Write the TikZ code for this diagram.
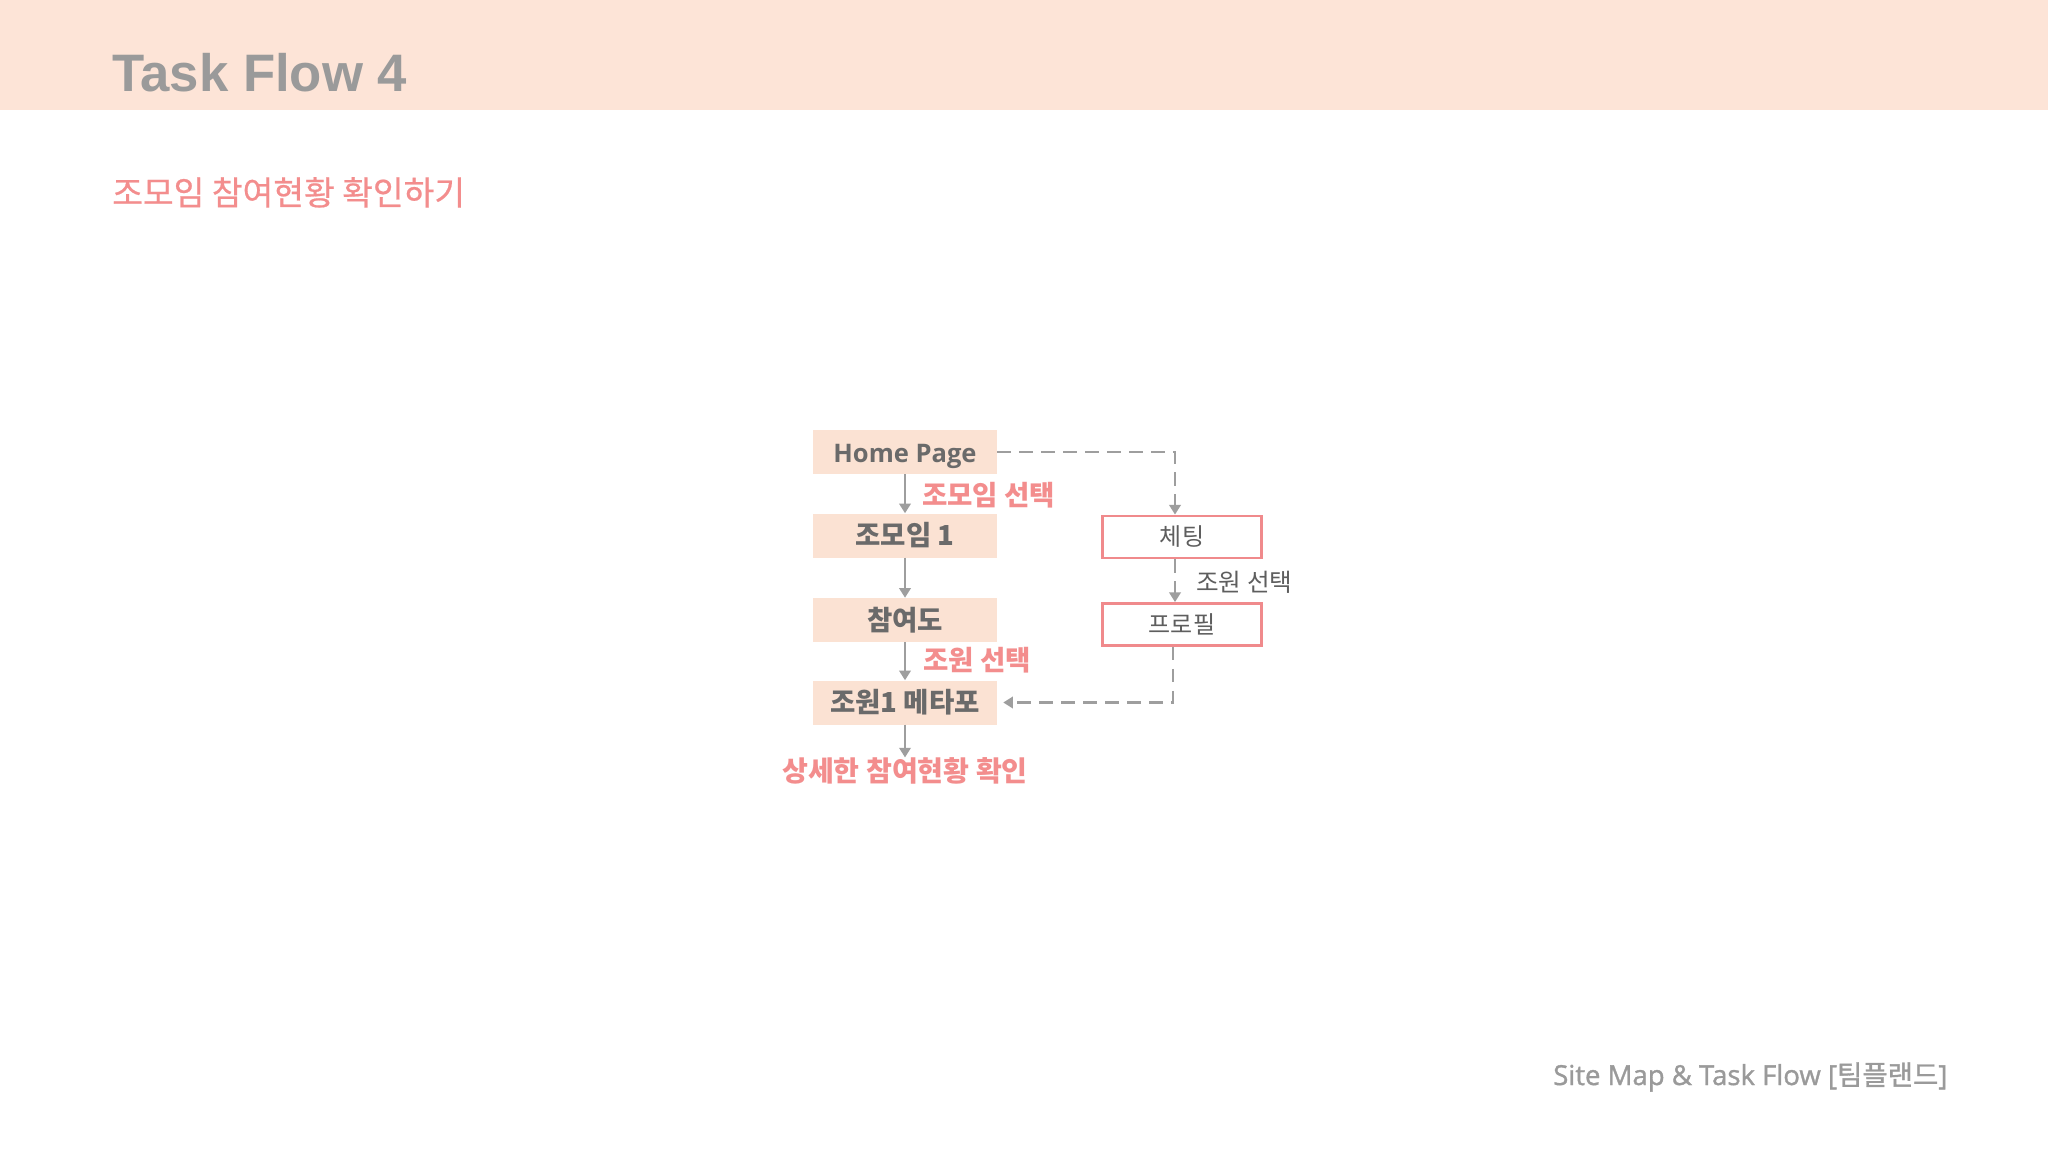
\documentclass[tikz,border=0pt]{standalone}
\usepackage{fontspec}
\setmainfont{Noto Sans CJK KR}
\newfontfamily\titlefont{Liberation Sans}
\newfontfamily\latinfont{Open Sans}
\newfontfamily\footlatin{Open Sans}[FakeBold=1.2]
\newfontfamily\footcjk{Noto Sans CJK KR}[FakeBold=1.2]
\newfontfamily\subfont{Noto Sans CJK KR}[FakeBold=0.6]
\usetikzlibrary{arrows.meta,positioning}
\definecolor{peach}{HTML}{FDE4D7}
\definecolor{boxpeach}{HTML}{FBE2D3}
\definecolor{pinktxt}{HTML}{F38D8D}
\definecolor{pinkline}{HTML}{F08A8C}
\definecolor{arrowgray}{HTML}{9E9E9E}
\definecolor{darktxt}{HTML}{6A6A6A}
\definecolor{midtxt}{HTML}{5E5E5E}
\definecolor{titlegray}{HTML}{9A9A9A}
\tikzset{
  pagebox/.style={fill=boxpeach, text=darktxt, minimum width=5.52cm, minimum height=1.32cm,
    inner sep=0pt, font=\fontsize{23.5pt}{27pt}\selectfont\bfseries},
  screenbox/.style={draw=pinkline, line width=2.4pt, fill=white, text=midtxt, minimum width=4.78cm,
    minimum height=1.26cm, inner sep=0pt, font=\fontsize{20.5pt}{24pt}\selectfont},
  picklabel/.style={anchor=west, inner sep=0pt, text=pinktxt, font=\fontsize{23.5pt}{27pt}\selectfont\bfseries},
  flow/.style={draw=arrowgray, line width=2.3pt, -{Triangle[length=0.29cm,width=0.34cm]}},
  dashflow/.style={flow, dash pattern=on 0.4cm off 0.26cm}
}
\begin{document}
\begin{tikzpicture}[x=0.03cm, y=-0.03cm]
\useasboundingbox (0,0) rectangle (2048,1152);
\fill[white] (0,0) rectangle (2048,1152);
\fill[peach] (0,0) rectangle (2048,110); % header
\node[anchor=base west, inner sep=0pt, text=titlegray, font=\titlefont\fontsize{45pt}{50pt}\selectfont\bfseries] (title) at (112,92) {Task Flow 4};
\node[anchor=base west, inner sep=0pt, text=pinktxt, font=\subfont\fontsize{28.5pt}{32pt}\selectfont] (subtitle) at (112,205) {조모임 참여현황 확인하기};

% main flow
\node[pagebox] (home) at (905,452) {{\latinfont\fontsize{21.8pt}{26pt}\selectfont\smash{Home Page}}\vphantom{조}};
\node[pagebox] (club) at (905,535.5) {조모임 1};
\node[pagebox] (part) at (905,620) {참여도};
\node[pagebox] (meta) at (905,702.5) {조원1 메타포};
\node[inner sep=0pt, text=pinktxt, font=\fontsize{24pt}{28pt}\selectfont\bfseries] (detail) at (905,771) {상세한 참여현황 확인};
\draw[flow] (home) -- (club);
\draw[flow] (club) -- (part);
\draw[flow] (part) -- (meta);
\draw[flow] (meta) -- (detail);
\node[picklabel] (pickclub) at (922,495) {조모임 선택};
\node[picklabel] (pickmember) at (923,660) {조원 선택};

% chat side
\node[screenbox] (chat) at (1182,537) {체팅};
\node[screenbox] (profile) at (1182,624.5) {프로필};
\draw[dashflow] (home.east) -| ([xshift=-0.21cm]chat.north);
\draw[dashflow] ([xshift=-0.21cm]chat.south) -- ([xshift=-0.21cm]profile.north);
\draw[dashflow] ([xshift=-0.27cm]profile.south) |- ([xshift=0.18cm]meta.east);
\node[anchor=west, inner sep=0pt, text=midtxt, font=\fontsize{21pt}{25pt}\selectfont] (pickchat) at (1196,582) {조원 선택};

% footer
\node[anchor=base west, inner sep=0pt, text=titlegray, font=\fontsize{23.5pt}{27pt}\selectfont] (footer) at (1553,1085) {{\footlatin Site Map \& Task Flow [}{\footcjk 팀플랜드}{\footlatin ]}};
\end{tikzpicture}
\end{document}
